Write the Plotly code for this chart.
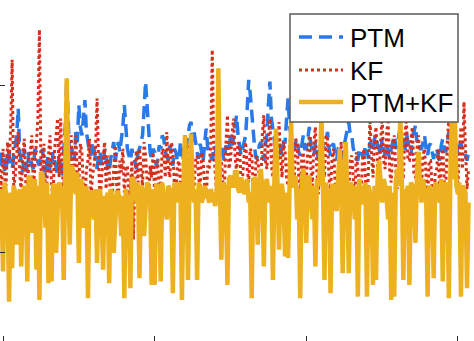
import plotly.graph_objects as go

# Sampling: first time stamp and step between samples
t_start = 49
t_step = 0.5

# Position error of the three estimators at each sample
ptm = [
    1.52, 1.60, 1.58, 1.50, 1.48, 1.62, 1.60, 1.52, 1.50, 1.58,
    1.62, 1.70, 1.86, 1.60, 1.55, 1.48, 1.62, 1.55, 1.48, 1.60,
    1.58, 1.52, 1.50, 1.62, 1.60, 1.54, 1.52, 1.58, 1.62, 1.50,
    1.45, 1.55, 1.58, 1.48, 1.50, 1.60, 1.56, 1.50, 1.46, 1.58,
    1.52, 1.45, 1.60, 1.75, 2.04, 1.70, 1.55, 1.60, 1.62, 1.55,
    1.72, 1.66, 1.88, 1.75, 1.70, 1.80, 1.91, 1.72, 1.65, 1.60,
    1.58, 1.66, 1.62, 1.55, 1.50, 1.58, 1.60, 1.52, 1.52, 1.62,
    1.58, 1.50, 1.48, 1.56, 1.62, 1.66, 1.55, 1.62, 1.66, 1.60,
    1.68, 1.75, 1.88, 1.70, 1.62, 1.58, 1.55, 1.62, 1.58, 1.52,
    1.50, 1.60, 1.62, 1.66, 1.70, 1.85, 2.02, 1.88, 1.72, 1.60,
    1.55, 1.62, 1.60, 1.52, 1.55, 1.64, 1.62, 1.70, 1.68, 1.60,
    1.58, 1.55, 1.64, 1.58, 1.52, 1.62, 1.60, 1.55, 1.55, 1.66,
    1.62, 1.56, 1.58, 1.64, 1.70, 1.76, 1.78, 1.66, 1.72, 1.64,
    1.60, 1.56, 1.65, 1.60, 1.55, 1.66, 1.74, 1.62, 1.60, 1.58,
    1.55, 1.64, 1.62, 1.55, 1.58, 1.66, 1.65, 1.58, 1.55, 1.64,
    1.62, 1.60, 1.70, 1.64, 1.68, 1.75, 1.82, 1.70, 1.65, 1.58,
    1.62, 1.66, 1.70, 1.85, 2.03, 1.95, 1.85, 1.70, 1.62, 1.56,
    1.58, 1.64, 1.66, 1.60, 1.55, 1.64, 1.70, 1.88, 2.02, 1.80,
    1.72, 1.64, 1.60, 1.55, 1.65, 1.62, 1.58, 1.66, 1.66, 1.80,
    1.92, 1.75, 1.70, 1.62, 1.62, 1.66, 1.68, 1.60, 1.58, 1.64,
    1.70, 1.62, 1.62, 1.68, 1.75, 1.64, 1.60, 1.58, 1.66, 1.62,
    1.55, 1.60, 1.70, 1.64, 1.62, 1.68, 1.72, 1.62, 1.58, 1.64,
    1.65, 1.58, 1.55, 1.62, 1.62, 1.56, 1.58, 1.64, 1.68, 1.72,
    1.78, 1.70, 1.70, 1.62, 1.60, 1.56, 1.55, 1.62, 1.62, 1.58,
    1.58, 1.64, 1.61, 1.56, 1.66, 1.62, 1.60, 1.68, 1.70, 1.64,
    1.62, 1.58, 1.68, 1.62, 1.58, 1.64, 1.60, 1.56, 1.62, 1.66,
    1.70, 1.64, 1.62, 1.70, 1.75, 1.68, 1.65, 1.60, 1.72, 1.66,
    1.62, 1.58, 1.70, 1.72, 1.76, 1.66, 1.68, 1.62, 1.62, 1.66,
    1.70, 1.62, 1.58, 1.64, 1.65, 1.60, 1.56, 1.62, 1.62, 1.58,
    1.55, 1.64, 1.68, 1.62, 1.60, 1.66, 1.72, 1.64, 1.62, 1.58,
    1.70, 1.66, 1.58, 1.62, 1.66, 1.60, 1.60, 1.58, 1.55, 1.60,
]
kf = [
    1.50, 1.38, 1.62, 1.45, 1.40, 1.66, 1.55, 1.72, 2.15, 1.40,
    1.45, 1.62, 1.72, 1.48, 1.35, 1.58, 1.68, 1.42, 1.33, 1.55,
    1.60, 1.70, 1.38, 1.52, 1.65, 1.80, 2.33, 1.50, 1.45, 1.65,
    1.30, 1.48, 1.58, 1.70, 1.40, 1.33, 1.62, 1.70, 1.80, 1.45,
    1.80, 1.52, 1.35, 1.62, 1.50, 1.38, 1.62, 1.70, 1.38, 1.55,
    1.70, 1.45, 1.42, 1.65, 1.60, 1.40, 1.30, 1.50, 1.55, 1.68,
    1.33, 1.46, 1.52, 1.62, 1.92, 1.55, 1.30, 1.45, 1.55, 1.66,
    1.38, 1.58, 1.50, 1.30, 1.35, 1.52, 1.64, 1.40, 1.32, 1.55,
    1.48, 1.62, 1.36, 1.50, 1.52, 1.34, 1.38, 1.55, 1.08, 1.45,
    1.61, 1.42, 1.62, 1.50, 1.40, 1.66, 1.58, 1.44, 1.30, 1.52,
    1.45, 1.60, 1.35, 1.48, 1.55, 1.36, 1.40, 1.62, 1.60, 1.45,
    1.72, 1.50, 1.45, 1.66, 1.62, 1.40, 1.36, 1.52, 1.55, 1.42,
    1.35, 1.58, 1.70, 1.48, 1.45, 1.65, 1.62, 1.38, 1.40, 1.55,
    1.58, 1.45, 1.38, 1.60, 1.55, 1.40, 1.32, 1.52, 1.50, 1.66,
    2.21, 1.60, 1.45, 1.33, 1.38, 1.48, 1.55, 1.42, 1.40, 1.65,
    1.82, 1.50, 1.55, 1.70, 1.80, 1.58, 1.48, 1.66, 1.62, 1.42,
    1.45, 1.58, 1.66, 1.50, 1.42, 1.62, 1.60, 1.38, 1.40, 1.58,
    1.55, 1.46, 1.38, 1.70, 1.82, 1.55, 1.50, 1.68, 1.80, 1.52,
    1.45, 1.70, 1.62, 1.48, 1.78, 1.58, 1.45, 1.66, 1.60, 1.44,
    1.40, 1.62, 1.75, 1.50, 1.42, 1.68, 1.65, 1.45, 1.38, 1.56,
    1.60, 1.46, 1.42, 1.62, 1.70, 1.50, 1.40, 1.66, 1.75, 1.48,
    1.35, 1.60, 1.80, 1.52, 1.45, 1.70, 1.68, 1.44, 1.38, 1.56,
    1.62, 1.42, 1.30, 1.50, 1.55, 1.66, 1.35, 1.48, 1.62, 1.40,
    1.36, 1.55, 1.58, 1.44, 1.32, 1.60, 1.50, 1.38, 1.30, 1.55,
    1.62, 1.45, 1.25, 1.50, 1.80, 1.58, 1.45, 1.68, 1.75, 1.52,
    1.40, 1.66, 1.82, 1.55, 1.50, 1.72, 1.78, 1.48, 1.42, 1.62,
    1.70, 1.50, 1.38, 1.58, 1.65, 1.44, 1.45, 1.70, 1.80, 1.55,
    1.55, 1.68, 1.75, 1.46, 1.45, 1.62, 1.70, 1.50, 1.40, 1.58,
    1.62, 1.46, 1.30, 1.55, 1.55, 1.38, 1.22, 1.48, 1.50, 1.62,
    1.35, 1.55, 1.62, 1.42, 1.40, 1.66, 1.80, 1.52, 1.45, 1.70,
    1.78, 1.55, 1.40, 1.62, 1.75, 1.50, 1.90, 1.62, 1.38, 1.50,
]
ptm_kf = [
    1.38, 1.30, 0.89, 1.42, 1.35, 1.28, 0.71, 1.36, 0.91, 1.40,
    1.36, 1.05, 1.20, 1.38, 0.92, 1.33, 1.40, 1.36, 0.83, 1.45,
    1.45, 1.12, 1.30, 1.44, 0.90, 1.40, 0.72, 1.47, 1.47, 1.38,
    1.15, 1.42, 0.82, 1.35, 0.83, 1.40, 1.40, 1.00, 1.25, 1.42,
    1.38, 1.34, 0.84, 1.45, 2.04, 1.50, 1.05, 1.52, 1.50, 1.40,
    1.35, 1.48, 0.94, 1.44, 1.42, 1.15, 1.30, 1.40, 0.73, 1.36,
    1.36, 1.30, 1.20, 1.38, 0.94, 1.35, 1.38, 1.22, 0.90, 1.34,
    1.30, 1.36, 0.82, 1.38, 1.34, 1.00, 1.20, 1.36, 1.36, 1.30,
    1.10, 1.34, 0.73, 1.38, 1.32, 1.25, 0.79, 1.44, 1.44, 1.36,
    1.30, 1.42, 0.85, 1.40, 1.38, 1.10, 1.22, 1.42, 1.40, 1.36,
    0.81, 1.38, 0.81, 1.40, 1.40, 1.30, 0.83, 1.42, 1.35, 1.25,
    1.20, 1.40, 1.38, 1.32, 0.76, 1.42, 1.30, 1.38, 1.42, 1.36,
    0.72, 1.40, 1.70, 1.36, 0.84, 1.45, 1.71, 1.40, 1.30, 1.38,
    0.84, 1.42, 1.38, 1.30, 1.33, 1.40, 1.36, 1.34, 1.30, 1.38,
    1.34, 1.30, 1.28, 1.38, 2.10, 1.40, 0.96, 1.42, 1.40, 1.30,
    0.81, 1.44, 1.46, 1.40, 1.40, 1.48, 1.48, 1.38, 1.36, 1.45,
    1.42, 1.35, 1.38, 1.44, 1.30, 1.36, 0.73, 1.42, 1.45, 1.36,
    1.05, 1.44, 1.50, 1.38, 0.92, 1.40, 1.44, 1.36, 1.30, 1.40,
    0.84, 1.45, 1.74, 1.42, 1.02, 1.40, 1.40, 1.32, 0.98, 1.36,
    0.97, 1.42, 1.78, 1.40, 1.40, 1.46, 1.20, 1.38, 0.73, 1.42,
    1.50, 1.38, 1.06, 1.45, 1.45, 1.34, 1.20, 1.40, 0.92, 1.44,
    1.40, 1.50, 1.82, 1.40, 0.84, 1.42, 1.35, 1.38, 0.76, 1.40,
    1.40, 1.30, 1.25, 1.44, 1.62, 1.38, 0.88, 1.50, 1.66, 1.36,
    0.88, 1.42, 1.40, 1.34, 1.20, 1.40, 0.74, 1.44, 1.38, 1.30,
    1.30, 1.42, 0.74, 1.40, 1.36, 1.30, 0.81, 1.40, 0.84, 1.45,
    1.55, 1.38, 1.30, 1.44, 1.40, 1.32, 1.20, 1.40, 0.72, 1.36,
    0.74, 1.42, 1.50, 1.40, 1.82, 1.44, 0.84, 1.38, 1.32, 1.40,
    0.81, 1.42, 1.40, 1.30, 1.06, 1.48, 1.60, 1.40, 1.30, 1.44,
    1.36, 1.38, 0.74, 1.40, 1.38, 1.32, 0.85, 1.42, 1.40, 1.36,
    1.30, 1.44, 0.83, 1.40, 1.42, 1.35, 0.73, 1.46, 1.80, 1.44,
    1.84, 1.40, 1.35, 1.42, 0.74, 1.40, 1.38, 1.36, 0.79, 1.30,
]
t = [t_start + t_step * k for k in range(len(ptm_kf))]

x_ticks = [50, 100, 150, 200]
y_ticks = [1, 2]

series = [
    ("PTM", ptm, dict(color="#2979ea", width=3.5, dash="13px,7px")),
    ("KF", kf, dict(color="#d6301c", width=3, dash="3px,3px")),
    ("PTM+KF", ptm_kf, dict(color="#edb120", width=4.5)),
]

fig = go.Figure()
for name, values, style in series:
    fig.add_trace(go.Scatter(x=t, y=values, name=name, mode="lines",
                             line=style, showlegend=False))

# Legend box drawn in figure (paper) space
W, H = 474, 341
box = dict(x0=290, x1=458, y0=14, y1=122)
row_y = [37, 70, 102]
sample_x = (299, 343)
text_x = 348

def px(x):
    return x / W

def py(y):
    return 1 - y / H

shapes = [dict(type="rect", xref="paper", yref="paper",
               x0=px(box["x0"]), x1=px(box["x1"]),
               y0=py(box["y1"]), y1=py(box["y0"]),
               fillcolor="white", line=dict(color="#5a5a5a", width=1.5),
               layer="above")]
annotations = []
for (name, _, style), yy in zip(series, row_y):
    shapes.append(dict(type="line", xref="paper", yref="paper",
                       x0=px(sample_x[0]), x1=px(sample_x[1]),
                       y0=py(yy), y1=py(yy), line=style, layer="above"))
    annotations.append(dict(xref="paper", yref="paper", x=px(text_x), y=py(yy + 1),
                            xanchor="left", yanchor="middle", text=name,
                            showarrow=False, font=dict(size=26, color="black")))

fig.update_layout(
    width=W, height=H,
    margin=dict(l=0, r=0, t=0, b=0),
    paper_bgcolor="white", plot_bgcolor="white",
    font=dict(family="Liberation Sans, Arial, sans-serif", color="black"),
    shapes=shapes, annotations=annotations,
    xaxis=dict(
        range=[49.0, 205.3], tickvals=x_ticks, ticks="inside", ticklen=5,
        tickcolor="#262626", tickwidth=1, showticklabels=False,
        showgrid=False, zeroline=False, showline=False,
    ),
    yaxis=dict(
        range=[0.476, 2.506], tickvals=y_ticks, ticks="inside", ticklen=5,
        tickcolor="#262626", tickwidth=1, showticklabels=False,
        showgrid=False, zeroline=False, showline=False,
    ),
)

fig.write_html("out.html")
